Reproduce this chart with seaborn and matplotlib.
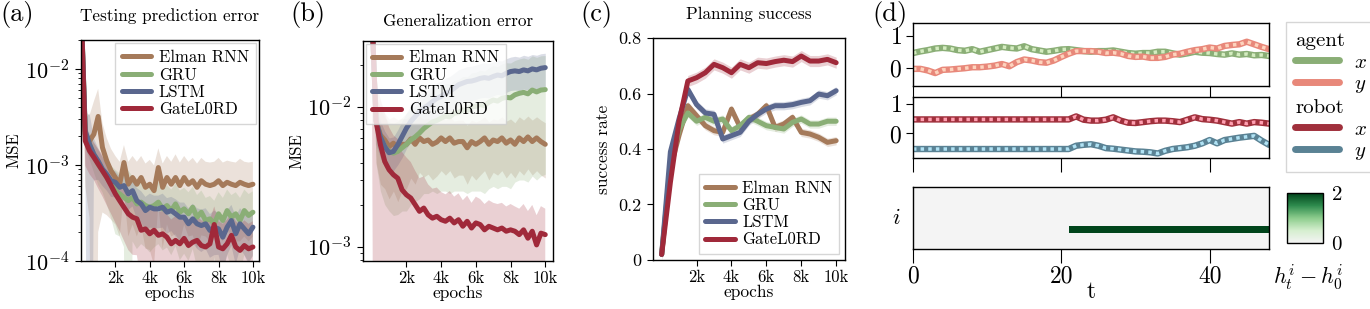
import numpy as np
import pandas as pd
import seaborn as sns
import matplotlib.pyplot as plt
from matplotlib.lines import Line2D
from matplotlib.ticker import NullFormatter
from matplotlib.colors import LinearSegmentedColormap

# ---------------- data ----------------
models = ['Elman RNN', 'GRU', 'LSTM', 'GateL0RD']
colors = {'Elman RNN': '#a57a5a', 'GRU': '#8aae76', 'LSTM': '#5a678e', 'GateL0RD': '#a0293a'}

# (a) testing prediction error, evaluated every 250 epochs
epochs_ab = np.arange(0, 10001, 250)
a_elman = [5e-2, 2.1e-3, 1.78e-3, 2.09e-3, 3.2e-3, 1.52e-3, 1.10e-3, 8.7e-4, 7.4e-4, 6.3e-4,
           1.06e-3, 6.3e-4, 7.4e-4, 6.3e-4, 7.4e-4, 5.85e-4, 6.3e-4, 5.4e-4, 9.4e-4, 5.85e-4,
           7.4e-4, 6.3e-4, 7.4e-4, 6.1e-4, 7.4e-4, 6.3e-4, 6.85e-4, 5.85e-4, 6.85e-4, 6.3e-4,
           6.1e-4, 6.3e-4, 6.85e-4, 6.1e-4, 6.6e-4, 6.3e-4, 6.1e-4, 6.6e-4, 6.3e-4, 6.1e-4, 6.3e-4]
a_elman_sd = [1e-3, 1.5e-3, 1.5e-3, 2.5e-3, 3e-3, 1.2e-3, 8e-4, 6e-4, 5e-4, 4.5e-4,
              5.5e-4, 4.5e-4, 5e-4, 4.5e-4, 5e-4, 4.5e-4, 5e-4, 4.5e-4, 5.5e-4, 4.5e-4,
              5e-4, 4.5e-4, 5.5e-4, 4.5e-4, 5e-4, 4.5e-4, 5e-4, 4.5e-4, 5e-4, 4.5e-4,
              4.5e-4, 4.5e-4, 5e-4, 4.5e-4, 4.5e-4, 4.5e-4, 4.5e-4, 5e-4, 4.5e-4, 4.5e-4, 4.5e-4]
a_gru = [5e-2, 2.09e-3, 1.64e-3, 1.29e-3, 1.02e-3, 8.7e-4, 7.4e-4, 6.3e-4, 5.4e-4, 5.0e-4,
         4.6e-4, 4.25e-4, 4.6e-4, 3.93e-4, 4.1e-4, 3.78e-4, 3.63e-4, 3.78e-4, 4.1e-4, 3.49e-4,
         3.78e-4, 3.35e-4, 3.93e-4, 3.22e-4, 3.49e-4, 3.1e-4, 3.63e-4, 2.86e-4, 3.22e-4, 2.64e-4,
         2.75e-4, 2.44e-4, 3.1e-4, 2.64e-4, 3.35e-4, 2.86e-4, 3.1e-4, 2.64e-4, 3.35e-4, 2.98e-4, 3.22e-4]
a_gru_sd = [1e-3, 6e-4, 5e-4, 4.5e-4, 4e-4, 3.5e-4, 3.5e-4, 3.5e-4, 3.5e-4, 3.2e-4,
            3.2e-4, 4.5e-4, 3e-4, 2.6e-4, 2.6e-4, 2.4e-4, 2.4e-4, 2.4e-4, 2.6e-4, 2.2e-4,
            2.4e-4, 2.2e-4, 2.5e-4, 2.2e-4, 2.3e-4, 2.1e-4, 2.3e-4, 2e-4, 2.2e-4, 1.9e-4,
            2e-4, 1.8e-4, 2.1e-4, 1.9e-4, 2.2e-4, 2e-4, 2.1e-4, 1.9e-4, 2.2e-4, 2e-4, 2.1e-4]
a_lstm = [5e-2, 2.26e-3, 1.64e-3, 1.29e-3, 1.10e-3, 9.05e-4, 8.0e-4, 6.85e-4, 6.6e-4, 5.85e-4,
          6.1e-4, 5.0e-4, 5.4e-4, 4.25e-4, 3.93e-4, 3.35e-4, 3.63e-4, 3.49e-4, 3.49e-4, 3.63e-4,
          3.22e-4, 3.35e-4, 3.1e-4, 2.86e-4, 2.86e-4, 2.44e-4, 2.75e-4, 2.44e-4, 2.34e-4, 2.44e-4,
          2.08e-4, 2.25e-4, 2.16e-4, 1.77e-4, 2.25e-4, 2.64e-4, 1.92e-4, 2.44e-4, 2.16e-4, 1.92e-4, 2.25e-4]
a_lstm_sd = [1e-3, 8e-4, 1.8e-3, 6e-4, 4e-4, 3e-4, 2.6e-4, 2.2e-4, 2e-4, 1.8e-4,
             1.8e-4, 1.6e-4, 1.7e-4, 1.5e-4, 1.4e-4, 1.3e-4, 1.4e-4, 1.3e-4, 1.3e-4, 1.4e-4,
             1.3e-4, 1.3e-4, 1.3e-4, 1.2e-4, 1.2e-4, 1.1e-4, 1.2e-4, 1.1e-4, 1.1e-4, 1.1e-4,
             1e-4, 1.1e-4, 1e-4, 1e-4, 1.1e-4, 1.2e-4, 1e-4, 1.1e-4, 1e-4, 1e-4, 1.1e-4]
a_gate = [5e-2, 1.78e-3, 1.40e-3, 1.20e-3, 1.02e-3, 8.7e-4, 7.4e-4, 6.1e-4, 5.0e-4, 4.25e-4,
          3.63e-4, 3.1e-4, 2.86e-4, 2.75e-4, 2.09e-4, 2.16e-4, 1.92e-4, 2.09e-4, 1.85e-4, 1.92e-4,
          1.77e-4, 1.51e-4, 1.64e-4, 1.51e-4, 1.72e-4, 1.45e-4, 1.57e-4, 1.64e-4, 1.45e-4, 1.40e-4,
          1.51e-4, 2.4e-4, 1.40e-4, 1.34e-4, 1.51e-4, 1.85e-4, 1.40e-4, 1.29e-4, 1.45e-4, 1.34e-4, 1.40e-4]
a_gate_sd = [1e-3, 8e-4, 6e-4, 5e-4, 4.5e-4, 4e-4, 3.6e-4, 3e-4, 2.5e-4, 2.2e-4,
             2e-4, 1.8e-4, 1.7e-4, 1.6e-4, 1.5e-4, 1.5e-4, 1.4e-4, 1.5e-4, 1.4e-4, 1.4e-4,
             1.3e-4, 1.2e-4, 1.3e-4, 1.2e-4, 1.3e-4, 1.2e-4, 1.2e-4, 1.3e-4, 1.2e-4, 1.2e-4,
             1.2e-4, 1.3e-4, 1.2e-4, 1.1e-4, 1.2e-4, 1.3e-4, 1.2e-4, 1.1e-4, 1.2e-4, 1.1e-4, 1.2e-4]

# (b) generalization error
b_elman = [5e-2, 8.0e-3, 6.3e-3, 5.8e-3, 5.2e-3, 5.5e-3, 5.1e-3, 5.4e-3, 5.4e-3, 5.9e-3,
           5.4e-3, 6.0e-3, 5.65e-3, 5.8e-3, 5.4e-3, 5.6e-3, 6.0e-3, 5.65e-3, 6.0e-3, 5.5e-3,
           5.65e-3, 5.65e-3, 5.1e-3, 5.65e-3, 5.4e-3, 5.65e-3, 6.0e-3, 5.4e-3, 5.8e-3, 5.65e-3,
           6.0e-3, 5.5e-3, 5.8e-3, 5.4e-3, 6.0e-3, 5.65e-3, 6.1e-3, 5.65e-3, 6.0e-3, 5.65e-3, 5.4e-3]
b_elman_sd = [1e-2, 4e-3, 3.5e-3, 3.2e-3, 3e-3, 3e-3, 3e-3, 2.9e-3, 2.8e-3, 2.8e-3,
              2.6e-3, 2.6e-3, 2.5e-3, 2.5e-3, 2.4e-3, 2.4e-3, 2.5e-3, 2.4e-3, 2.5e-3, 2.4e-3,
              2.4e-3, 2.4e-3, 2.3e-3, 2.4e-3, 2.4e-3, 2.4e-3, 2.5e-3, 2.4e-3, 2.4e-3, 2.4e-3,
              2.5e-3, 2.4e-3, 2.4e-3, 2.3e-3, 2.5e-3, 2.4e-3, 2.5e-3, 2.4e-3, 2.5e-3, 2.4e-3, 2.3e-3]
b_gru = [5e-2, 7.9e-3, 6.0e-3, 5.2e-3, 4.8e-3, 4.67e-3, 4.8e-3, 5.1e-3, 5.4e-3, 5.8e-3,
         6.1e-3, 6.5e-3, 7.0e-3, 7.4e-3, 7.8e-3, 8.0e-3, 8.3e-3, 8.6e-3, 8.5e-3, 9.0e-3,
         9.1e-3, 9.5e-3, 9.4e-3, 1.0e-2, 1.01e-2, 1.04e-2, 1.02e-2, 1.08e-2, 1.12e-2, 1.10e-2,
         1.15e-2, 1.17e-2, 1.16e-2, 1.22e-2, 1.25e-2, 1.27e-2, 1.24e-2, 1.32e-2, 1.28e-2, 1.32e-2, 1.33e-2]
b_gru_sd = [1e-2, 4e-3, 3.5e-3, 3.2e-3, 3e-3, 3e-3, 3.1e-3, 3.3e-3, 3.6e-3, 3.8e-3,
            4e-3, 4.3e-3, 4.6e-3, 5e-3, 5.3e-3, 5.6e-3, 5.8e-3, 6.1e-3, 6.1e-3, 6.5e-3,
            6.6e-3, 7e-3, 7e-3, 7.5e-3, 7.6e-3, 7.9e-3, 7.8e-3, 8.2e-3, 8.5e-3, 8.4e-3,
            8.8e-3, 9e-3, 9e-3, 9.3e-3, 9.5e-3, 9.7e-3, 9.5e-3, 1e-2, 9.8e-3, 1e-2, 1e-2]
b_lstm = [5e-2, 7.9e-3, 6.1e-3, 5.2e-3, 4.7e-3, 4.8e-3, 5.36e-3, 6.14e-3, 7.04e-3, 7.86e-3,
          8.53e-3, 9.26e-3, 9.78e-3, 1.03e-2, 1.09e-2, 1.15e-2, 1.19e-2, 1.25e-2, 1.29e-2, 1.36e-2,
          1.44e-2, 1.48e-2, 1.52e-2, 1.53e-2, 1.56e-2, 1.60e-2, 1.62e-2, 1.60e-2, 1.65e-2, 1.69e-2,
          1.67e-2, 1.74e-2, 1.79e-2, 1.81e-2, 1.79e-2, 1.84e-2, 1.81e-2, 1.87e-2, 1.84e-2, 1.89e-2, 1.91e-2]
b_lstm_sd = [1e-2, 2.5e-3, 1.8e-3, 1.5e-3, 1.3e-3, 1.3e-3, 1.5e-3, 1.8e-3, 2e-3, 2.3e-3,
             2.5e-3, 2.7e-3, 2.8e-3, 3e-3, 3.1e-3, 3.3e-3, 3.4e-3, 3.5e-3, 3.6e-3, 3.8e-3,
             4e-3, 4.1e-3, 4.2e-3, 4.2e-3, 4.3e-3, 4.4e-3, 4.5e-3, 4.4e-3, 4.5e-3, 4.6e-3,
             4.6e-3, 4.7e-3, 4.8e-3, 4.9e-3, 4.8e-3, 5e-3, 4.9e-3, 5e-3, 5e-3, 5.1e-3, 5.1e-3]
b_gate = [5e-2, 7.86e-3, 5.36e-3, 4.07e-3, 3.55e-3, 3.27e-3, 3.09e-3, 2.55e-3, 2.35e-3, 2.23e-3,
          2.0e-3, 1.79e-3, 1.89e-3, 1.69e-3, 1.60e-3, 1.65e-3, 1.56e-3, 1.52e-3, 1.60e-3, 1.48e-3,
          1.56e-3, 1.40e-3, 1.52e-3, 1.36e-3, 1.48e-3, 1.44e-3, 1.32e-3, 1.40e-3, 1.36e-3, 1.32e-3,
          1.36e-3, 1.29e-3, 1.32e-3, 1.29e-3, 1.22e-3, 1.32e-3, 1.15e-3, 1.29e-3, 1.03e-3, 1.25e-3, 1.22e-3]
b_gate_sd = [1e-2, 8e-3, 6e-3, 5e-3, 3.6e-3, 3e-3, 2.8e-3, 2.2e-3, 2e-3, 1.8e-3,
             1.5e-3, 1.3e-3, 1.3e-3, 1.1e-3, 1e-3, 1e-3, 9e-4, 8.5e-4, 9e-4, 8e-4,
             8.5e-4, 7.5e-4, 8e-4, 7e-4, 8e-4, 7.5e-4, 7e-4, 7.5e-4, 7e-4, 7e-4,
             7e-4, 6.5e-4, 7e-4, 6.5e-4, 6.5e-4, 7e-4, 6.5e-4, 7e-4, 6.5e-4, 7e-4, 6.5e-4]

# (c) planning success, evaluated every 500 epochs
epochs_c = np.arange(0, 10001, 500)
c_elman = [0.02, 0.33, 0.45, 0.556, 0.52, 0.484, 0.466, 0.46, 0.544, 0.478, 0.508,
           0.525, 0.556, 0.478, 0.49, 0.514, 0.46, 0.454, 0.442, 0.424, 0.43]
c_gru = [0.02, 0.35, 0.47, 0.53, 0.50, 0.514, 0.50, 0.508, 0.466, 0.484, 0.514,
         0.50, 0.484, 0.478, 0.472, 0.496, 0.508, 0.49, 0.49, 0.50, 0.50]
c_lstm = [0.02, 0.39, 0.51, 0.615, 0.56, 0.53, 0.525, 0.436, 0.448, 0.46, 0.50,
          0.525, 0.544, 0.556, 0.556, 0.56, 0.568, 0.574, 0.598, 0.592, 0.61]
c_gate = [0.02, 0.28, 0.50, 0.645, 0.657, 0.675, 0.705, 0.693, 0.675, 0.705, 0.693,
          0.711, 0.708, 0.715, 0.72, 0.715, 0.735, 0.717, 0.717, 0.723, 0.711]
c_sd = {'Elman RNN': 0.015, 'GRU': 0.015, 'LSTM': 0.015, 'GateL0RD': 0.02}

# (d) example rollout
t_steps = np.arange(49)
agent_x = [0.47, 0.52, 0.56, 0.61, 0.63, 0.61, 0.56, 0.54, 0.59, 0.51, 0.56, 0.61, 0.66, 0.63, 0.61,
           0.68, 0.59, 0.55, 0.51, 0.54, 0.58, 0.59, 0.56, 0.53, 0.51, 0.53, 0.53, 0.55, 0.51, 0.47,
           0.45, 0.47, 0.47, 0.51, 0.51, 0.46, 0.42, 0.46, 0.51, 0.48, 0.47, 0.44, 0.42, 0.46, 0.42,
           0.44, 0.40, 0.41, 0.38]
agent_y = [-0.02, -0.02, -0.07, -0.15, -0.05, -0.04, -0.02, 0.0, 0.03, 0.03, 0.05, 0.08, 0.13, 0.06, 0.19,
           0.27, 0.24, 0.19, 0.17, 0.24, 0.35, 0.45, 0.53, 0.53, 0.53, 0.51, 0.47, 0.48, 0.45, 0.38,
           0.35, 0.36, 0.32, 0.32, 0.35, 0.42, 0.45, 0.51, 0.56, 0.59, 0.64, 0.61, 0.69, 0.72, 0.74,
           0.82, 0.74, 0.66, 0.59]
robot_x = [0.47, 0.47, 0.47, 0.47, 0.47, 0.47, 0.47, 0.47, 0.47, 0.47, 0.47, 0.47, 0.47, 0.47, 0.47,
           0.47, 0.47, 0.47, 0.47, 0.47, 0.47, 0.47, 0.57, 0.46, 0.43, 0.43, 0.46, 0.54, 0.43, 0.36,
           0.35, 0.38, 0.41, 0.43, 0.43, 0.41, 0.38, 0.46, 0.54, 0.48, 0.46, 0.43, 0.38, 0.33, 0.38,
           0.33, 0.38, 0.36, 0.33]
robot_y = [-0.52, -0.52, -0.52, -0.52, -0.52, -0.52, -0.52, -0.52, -0.52, -0.52, -0.52, -0.52, -0.52,
           -0.52, -0.52, -0.52, -0.52, -0.52, -0.52, -0.52, -0.52, -0.52, -0.41, -0.38, -0.36, -0.41,
           -0.49, -0.51, -0.54, -0.57, -0.60, -0.61, -0.63, -0.67, -0.58, -0.52, -0.49, -0.46, -0.41,
           -0.33, -0.22, -0.33, -0.22, -0.18, -0.14, -0.11, -0.08, -0.24, -0.38]
# latent change h_t^i - h_0^i of the one unit that switches
n_units = 8
switch_unit = 5
switch_delta = [0, 0, 0, 0, 0, 0, 0, 0, 0, 0, 0, 0, 0, 0, 0, 0, 0, 0, 0, 0, 0,
                2, 2, 2, 2, 2, 2, 2, 2, 2, 2, 2, 2, 2, 2, 2, 2, 2, 2, 2, 2, 2, 2, 2, 2, 2, 2, 2]

# ---------------- style ----------------
sns.set_style('ticks', {'axes.edgecolor': 'black', 'xtick.color': 'black', 'ytick.color': 'black',
                        'text.color': 'black', 'axes.labelcolor': 'black'})
plt.rcParams.update({'font.family': 'serif', 'font.serif': ['cmr10'], 'mathtext.fontset': 'cm',
                     'axes.formatter.use_mathtext': True, 'axes.unicode_minus': False,
                     'axes.linewidth': 1.0})

fig = plt.figure(figsize=(13.7, 3.09), dpi=100)

LEG_KW = dict(fontsize=12, handlelength=1.75, handletextpad=0.45, labelspacing=0.12,
              borderpad=0.4, frameon=True, edgecolor='#cccccc', fancybox=False)


def curve_panel(ax, x, means, sds, log=True):
    rows = []
    for m in models:
        mean = np.array(means[m], dtype=float)
        sd = np.array(sds[m], dtype=float) if np.ndim(sds[m]) else np.full(len(mean), sds[m])
        lo = mean - sd
        if log:
            lo = np.where(lo > 0, lo, 1e-9)
        ax.fill_between(x, lo, mean + sd, color=colors[m], alpha=0.22, lw=0)
        rows.append(pd.DataFrame({'epoch': x, 'value': mean, 'model': m}))
    df = pd.concat(rows)
    sns.lineplot(data=df, x='epoch', y='value', hue='model', hue_order=models, palette=colors,
                 lw=3.6, errorbar=None, legend=False, ax=ax)
    if log:
        ax.set_yscale('log')
        ax.yaxis.set_minor_formatter(NullFormatter())
    ax.set_xticks([2000, 4000, 6000, 8000, 10000])
    ax.set_xticklabels(['2k', '4k', '6k', '8k', '10k'])
    ax.set_xlabel('epochs', fontsize=12.5, labelpad=0)
    ax.tick_params(axis='x', labelsize=12, length=4, pad=3)
    ax.tick_params(axis='y', which='major', labelsize=16, length=4.5, pad=4)
    ax.tick_params(axis='y', which='minor', length=2.5)


# (a)
ax_a = fig.add_axes([0.0591, 0.1553, 0.1299, 0.7153])
curve_panel(ax_a, epochs_ab,
            {'Elman RNN': a_elman, 'GRU': a_gru, 'LSTM': a_lstm, 'GateL0RD': a_gate},
            {'Elman RNN': a_elman_sd, 'GRU': a_gru_sd, 'LSTM': a_lstm_sd, 'GateL0RD': a_gate_sd})
ax_a.set_ylim(1e-4, 2e-2)
ax_a.set_xlim(0, 10350)
ax_a.set_ylabel('MSE', fontsize=12, labelpad=2)
ax_a.set_title('Testing prediction error', fontsize=12.3, pad=14)
ax_a.legend(ax_a.lines[:4], models, loc='upper right', borderaxespad=0.2, **LEG_KW)

# (b)
ax_b = fig.add_axes([0.265, 0.1553, 0.1387, 0.712])
curve_panel(ax_b, epochs_ab,
            {'Elman RNN': b_elman, 'GRU': b_gru, 'LSTM': b_lstm, 'GateL0RD': b_gate},
            {'Elman RNN': b_elman_sd, 'GRU': b_gru_sd, 'LSTM': b_lstm_sd, 'GateL0RD': b_gate_sd})
ax_b.set_ylim(7.9e-4, 2.96e-2)
ax_b.set_xlim(-500, 10450)
ax_b.set_ylabel('MSE', fontsize=12, labelpad=2)
ax_b.set_title('Generalization error', fontsize=12.3, pad=11)
ax_b.legend(ax_b.lines[:4], models, loc='upper left', borderaxespad=0.15, **LEG_KW)

# (c)
ax_c = fig.add_axes([0.4766, 0.1586, 0.1401, 0.7184])
curve_panel(ax_c, epochs_c,
            {'Elman RNN': c_elman, 'GRU': c_gru, 'LSTM': c_lstm, 'GateL0RD': c_gate},
            c_sd, log=False)
ax_c.set_ylim(0, 0.8)
ax_c.set_xlim(-500, 10500)
ax_c.set_yticks([0, 0.2, 0.4, 0.6, 0.8])
ax_c.set_yticklabels(['0', '0.2', '0.4', '0.6', '0.8'])
ax_c.tick_params(axis='y', labelsize=13)
ax_c.set_ylabel('success rate', fontsize=12.5, labelpad=5)
ax_c.set_title('Planning success', fontsize=12.3, pad=14)
ax_c.legend(ax_c.lines[:4], models, loc='lower right', borderaxespad=0.35, **LEG_KW)

# (d) rollout lines
d_series = [
    ('agent', '$x$', agent_x, '#8aae76', '#d4ecc0'),
    ('agent', '$y$', agent_y, '#e8887a', '#fdd3bd'),
    ('robot', '$x$', robot_x, '#a0303c', '#ff9fb0'),
    ('robot', '$y$', robot_y, '#5a8294', '#b0e2f4'),
]
ax_d1 = fig.add_axes([0.6664, 0.7217, 0.2599, 0.2039])
ax_d2 = fig.add_axes([0.6664, 0.4887, 0.2599, 0.1974])
leg_handles, leg_labels = [], []
for who, lab, vals, c_main, c_light in d_series:
    ax = ax_d1 if who == 'agent' else ax_d2
    sns.lineplot(x=t_steps, y=vals, color=c_main, lw=4.6, ax=ax, errorbar=None)
    sns.lineplot(x=t_steps, y=vals, color=c_light, lw=2.5, ax=ax, errorbar=None,
                 linestyle=(0, (1.0, 1.2)))
    if who not in leg_labels:
        leg_handles.append(Line2D([], [], linestyle='none'))
        leg_labels.append(who)
    leg_handles.append(Line2D([], [], color=c_main, lw=5))
    leg_labels.append(lab)

for ax, ylim in ((ax_d1, (-0.55, 1.4)), (ax_d2, (-0.82, 1.22))):
    ax.set_xlim(0, 48)
    ax.set_ylim(*ylim)
    ax.set_yticks([0, 1])
    ax.set_xticks([0, 20, 40])
    ax.set_xticklabels([])
    ax.tick_params(axis='y', labelsize=17, length=5, pad=3)
    ax.tick_params(axis='x', length=10)

leg = fig.legend(leg_handles, leg_labels, loc='upper left', bbox_to_anchor=(0.931, 0.963),
                 fontsize=15, handlelength=2.1, labelspacing=0.15, handletextpad=0.7,
                 borderpad=0.45, frameon=True, edgecolor='#cccccc', fancybox=False)
for col in leg._legend_handle_box.get_children():
    for item in col.get_children():
        da, ta = item.get_children()
        if ta.get_text() in ('agent', 'robot'):
            da.set_width(0)
            item.sep = 0

# (d) latent heatmap
ax_d3 = fig.add_axes([0.6664, 0.1942, 0.2599, 0.2006])
cax = fig.add_axes([0.9394, 0.2136, 0.0263, 0.1618])
latent = np.zeros((n_units, len(switch_delta)))
latent[switch_unit] = switch_delta
greens = LinearSegmentedColormap.from_list(
    'greens', ['#f4f4f4', '#d5eecf', '#8ccc8c', '#2e8b4e', '#00441b'])
sns.heatmap(latent, ax=ax_d3, cmap=greens, vmin=0, vmax=2, cbar_ax=cax,
            cbar_kws={'ticks': [0, 2]}, xticklabels=False, yticklabels=False)
for s in ax_d3.spines.values():
    s.set_visible(True)
    s.set_color('black')
ax_d3.set_xticks([0, 20, 40])
ax_d3.set_xticklabels(['0', '20', '40'])
ax_d3.tick_params(axis='x', labelsize=17, length=10, bottom=True, pad=2)
ax_d3.set_yticks([])
ax_d3.set_ylabel('$i$', fontsize=16, rotation=0, labelpad=12, va='center')
ax_d3.set_xlabel('t', fontsize=17, labelpad=-5)
cb = ax_d3.collections[0].colorbar
cb.outline.set_linewidth(1.0)
cb.outline.set_edgecolor('black')
cax.tick_params(length=0, labelsize=15, pad=6)
fig.text(1308 / 1370, 1 - 277 / 309, '$h_t^i - h_0^i$', fontsize=16, ha='center', va='center')

# panel letters
for xp, letter in ((0.0, '(a)'), (0.2117, '(b)'), (0.4234, '(c)'), (0.6365, '(d)')):
    fig.text(xp, 0.998, letter, fontsize=19, va='top', ha='left')

fig.savefig('out.png', dpi=100)
